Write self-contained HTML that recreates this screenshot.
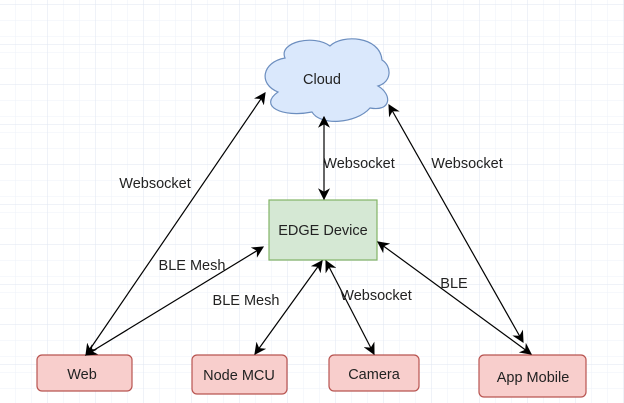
<!DOCTYPE html>
<html><head><style>
html,body{margin:0;padding:0;background:#fff}
svg{display:block}
text{font-family:"Liberation Sans",sans-serif;font-size:14.5px;fill:#222}
</style></head><body>
<svg width="624" height="403" viewBox="0 0 624 403" xmlns="http://www.w3.org/2000/svg">
<defs>
<pattern id="minor" width="16" height="16" patternUnits="userSpaceOnUse" x="0" y="5">
<path d="M16 0V16M0 16H16" stroke="#eef2f8" stroke-width="1" fill="none"/>
</pattern>
<pattern id="major" width="48" height="40" patternUnits="userSpaceOnUse" x="0" y="5">
<path d="M48 0V40M0 40H48" stroke="#dfe6f2" stroke-width="1" fill="none"/>
</pattern>
<marker id="a" viewBox="0 0 10 10" refX="9" refY="5" markerWidth="12" markerHeight="12" orient="auto-start-reverse" markerUnits="userSpaceOnUse">
<path d="M0 0L10 5L0 10L3 5Z" fill="#000"/>
</marker>
</defs>
<rect width="624" height="403" fill="url(#minor)"/>
<rect width="624" height="403" fill="url(#major)"/>

<path d="M285 58 C278 42 314 34 330 46 C342 34 380 36 382 60 C392 66 392 82 378 86 C392 94 392 112 370 108 C356 124 320 126 312 112 C282 118 258 106 278 92 C258 84 262 62 285 58 Z" fill="#dae8fc" stroke="#6c8ebf" stroke-width="1.2"/>
<text x="322" y="84" text-anchor="middle">Cloud</text>

<rect x="269" y="200" width="108" height="60" fill="#d5e8d4" stroke="#82b366" stroke-width="1.2"/>
<text x="323" y="235" text-anchor="middle">EDGE Device</text>

<rect x="37" y="355" width="95" height="36" rx="5" fill="#f8cecc" stroke="#b85450" stroke-width="1.2"/>
<text x="82" y="379" text-anchor="middle">Web</text>
<rect x="192" y="355" width="95" height="39" rx="5" fill="#f8cecc" stroke="#b85450" stroke-width="1.2"/>
<text x="239" y="380" text-anchor="middle">Node MCU</text>
<rect x="329" y="355" width="90" height="36" rx="5" fill="#f8cecc" stroke="#b85450" stroke-width="1.2"/>
<text x="374" y="379" text-anchor="middle">Camera</text>
<rect x="479" y="355" width="107" height="42" rx="5" fill="#f8cecc" stroke="#b85450" stroke-width="1.2"/>
<text x="533" y="382" text-anchor="middle">App Mobile</text>

<g stroke="#000" stroke-width="1.2" fill="none" marker-start="url(#a)" marker-end="url(#a)">
<line x1="86" y1="355" x2="265" y2="93"/>
<line x1="86" y1="355" x2="263" y2="247"/>
<line x1="255" y1="354" x2="322" y2="261"/>
<line x1="374" y1="354" x2="326" y2="261"/>
<line x1="324" y1="117" x2="324" y2="199"/>
<line x1="389" y1="105" x2="523" y2="342"/>
<line x1="378" y1="242" x2="531" y2="354"/>
</g>

<text x="155" y="188" text-anchor="middle">Websocket</text>
<text x="359" y="168" text-anchor="middle">Websocket</text>
<text x="467" y="168" text-anchor="middle">Websocket</text>
<text x="192" y="270" text-anchor="middle">BLE Mesh</text>
<text x="246" y="305" text-anchor="middle">BLE Mesh</text>
<text x="376" y="300" text-anchor="middle">Websocket</text>
<text x="454" y="288" text-anchor="middle">BLE</text>
</svg>
</body></html>
